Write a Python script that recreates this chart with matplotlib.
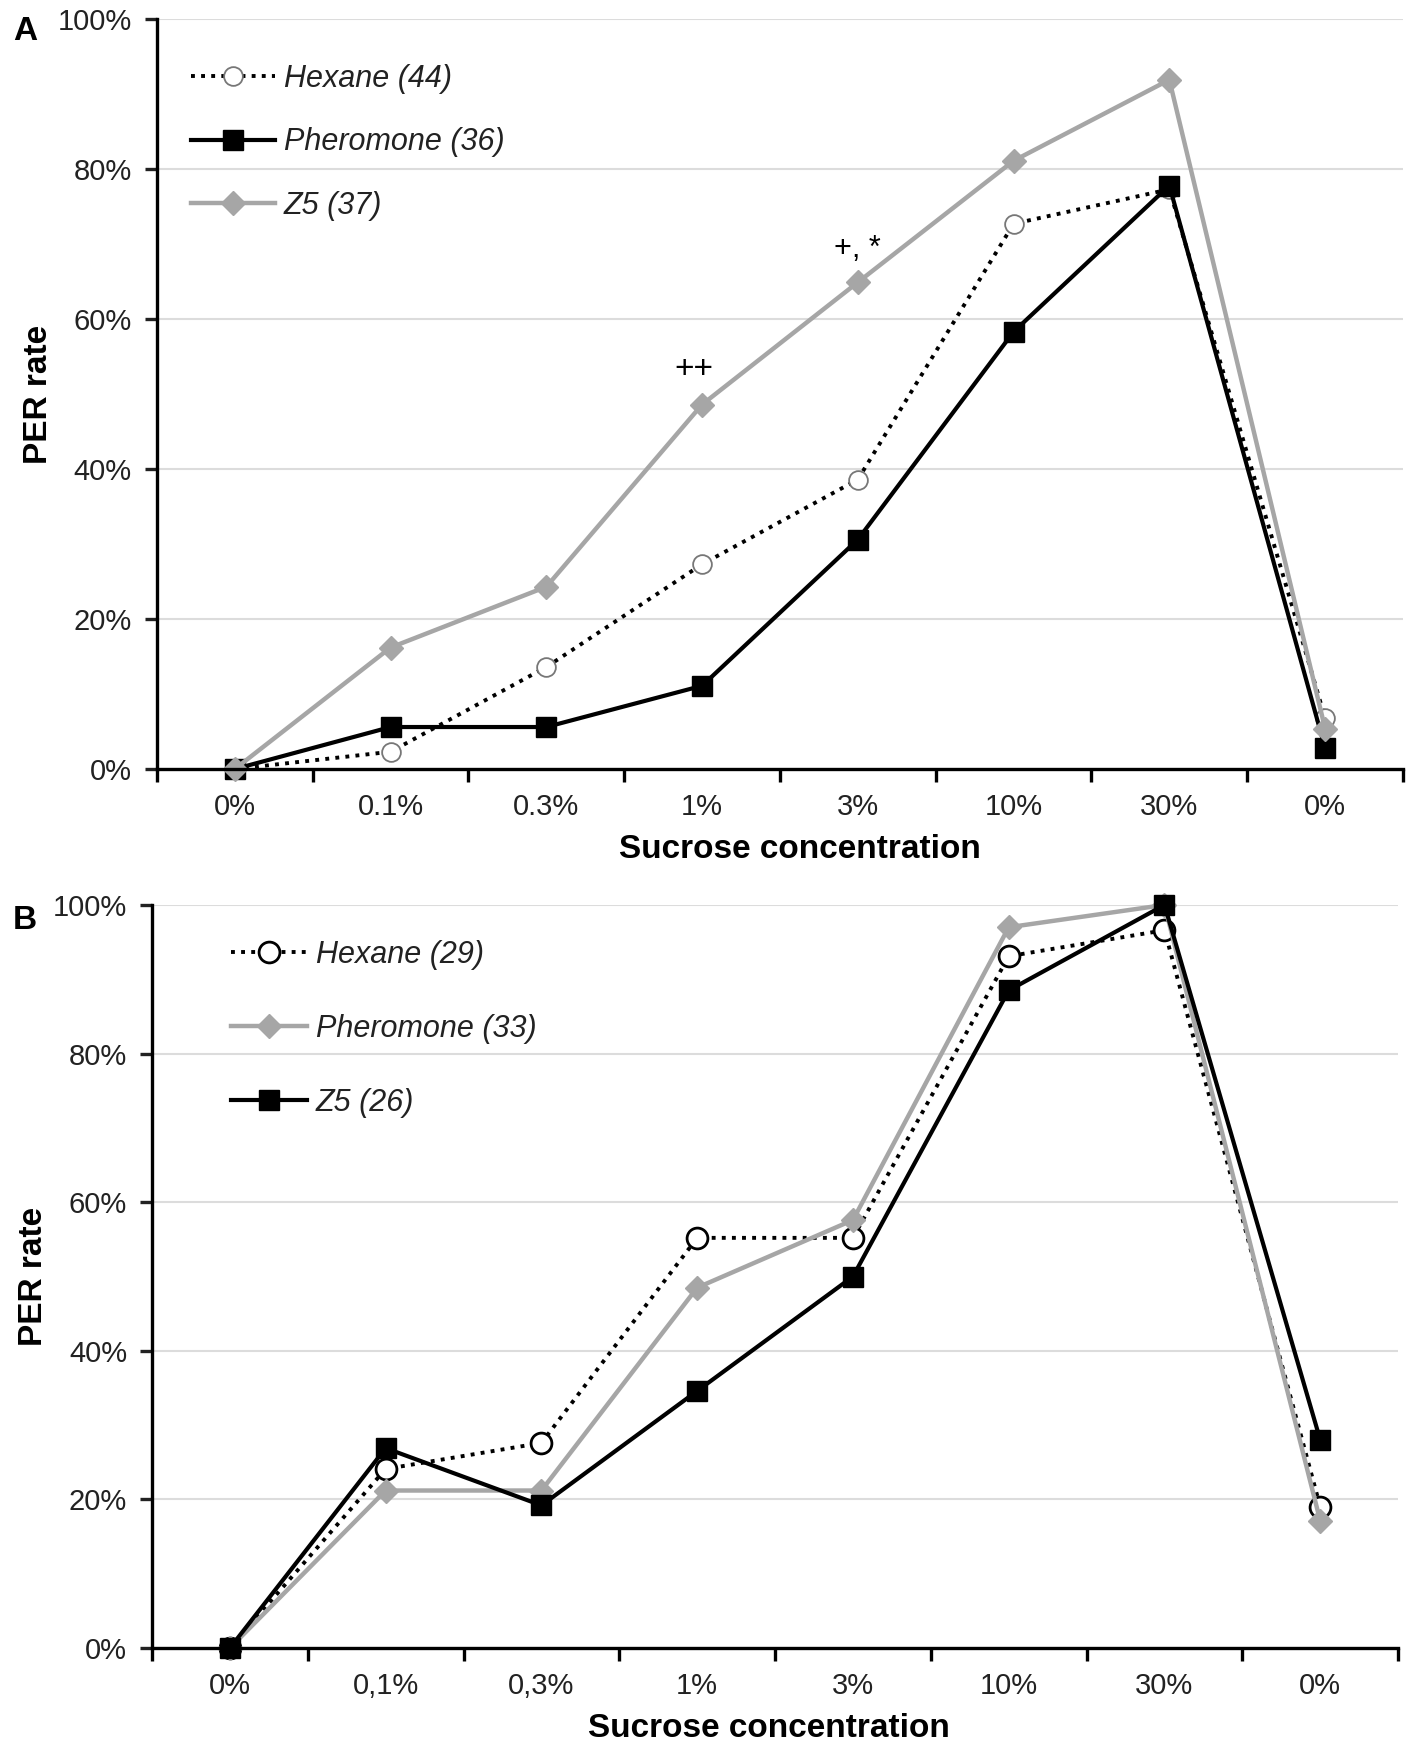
import matplotlib.pyplot as plt
import numpy as np

plt.rcParams["font.family"] = ["Liberation Sans", "DejaVu Sans"]

# x categories (sucrose concentration)
labels_a = ["0%", "0.1%", "0.3%", "1%", "3%", "10%", "30%", "0%"]
labels_b = ["0%", "0,1%", "0,3%", "1%", "3%", "10%", "30%", "0%"]

# panel A, PER rate (fraction)
hexane_a = [0.0, 0.023, 0.136, 0.273, 0.386, 0.727, 0.773, 0.068]
pheromone_a = [0.0, 0.056, 0.056, 0.111, 0.306, 0.583, 0.778, 0.028]
z5_a = [0.0, 0.162, 0.243, 0.486, 0.649, 0.811, 0.919, 0.054]

# panel B, PER rate (fraction)
hexane_b = [0.0, 0.241, 0.276, 0.552, 0.552, 0.931, 0.966, 0.19]
pheromone_b = [0.0, 0.212, 0.212, 0.485, 0.576, 0.97, 1.0, 0.171]
z5_b = [0.0, 0.269, 0.192, 0.346, 0.5, 0.885, 1.0, 0.28]

GREY = "#a6a6a6"


def style_axes(ax, xlabels, xlabel_x):
    x = np.arange(len(xlabels))
    ax.set_xlim(-0.5, len(xlabels) - 0.5)
    ax.set_ylim(0, 1)
    ax.set_yticks(np.arange(0, 1.01, 0.2))
    ax.set_yticklabels([f"{int(round(v * 100))}%" for v in np.arange(0, 1.01, 0.2)])
    ax.set_xticks(x)
    ax.set_xticklabels(xlabels)
    ax.set_xticks(np.arange(-0.5, len(xlabels)), minor=True)
    ax.tick_params(axis="x", which="major", length=0, pad=17, labelsize=21)
    ax.tick_params(axis="x", which="minor", length=9, width=2.4, direction="out")
    ax.tick_params(axis="y", length=9, width=2.4, pad=9, labelsize=21,
                   colors="#222222")
    ax.tick_params(axis="x", colors="#222222")
    ax.grid(axis="y", color="#dcdcdc", linewidth=1.5)
    ax.set_axisbelow(True)
    for s in ["top", "right"]:
        ax.spines[s].set_visible(False)
    for s in ["left", "bottom"]:
        ax.spines[s].set_linewidth(2.4)
        ax.spines[s].set_color("black")
    ax.set_ylabel("PER rate", fontsize=24, fontweight="bold")
    ax.set_xlabel("Sucrose concentration", fontsize=24, fontweight="bold")
    ax.yaxis.set_label_coords(-0.083, 0.5)
    ax.xaxis.set_label_coords(xlabel_x, -0.087)
    return x


fig = plt.figure(figsize=(14.18, 17.63), dpi=100)
ax_a = fig.add_axes([0.1107, 0.5638, 0.8787, 0.4254])
ax_b = fig.add_axes([0.1072, 0.0652, 0.8788, 0.4215])

# ---- panel A
x = style_axes(ax_a, labels_a, 0.516)
ax_a.plot(x, hexane_a, linestyle=(0, (1, 1.6)), linewidth=2.8, color="black",
          marker="o", markersize=13.5, markerfacecolor="white",
          markeredgecolor="#777777", markeredgewidth=1.3,
          label="Hexane (44)", clip_on=False)
ax_a.plot(x, pheromone_a, linestyle="-", linewidth=3.0, color="black",
          marker="s", markersize=14.5, label="Pheromone (36)", clip_on=False)
ax_a.plot(x, z5_a, linestyle="-", linewidth=3.2, color=GREY,
          marker="D", markersize=12.5, label="Z5 (37)", clip_on=False)
ax_a.annotate("++", (3, z5_a[3]), xytext=(-6, 14), textcoords="offset points",
              ha="center", va="bottom", fontsize=24)
ax_a.annotate("+, *", (4, z5_a[4]), xytext=(0, 13), textcoords="offset points",
              ha="center", va="bottom", fontsize=22)
leg = ax_a.legend(loc="upper left", bbox_to_anchor=(0.027, 0.94), frameon=False,
                  fontsize=22, handlelength=2.75, handletextpad=0.3,
                  labelspacing=1.09, borderpad=0, borderaxespad=0)
for t in leg.get_texts():
    t.set_fontstyle("italic")
    t.set_color("#222222")

# ---- panel B
x = style_axes(ax_b, labels_b, 0.495)
ax_b.plot(x, hexane_b, linestyle=(0, (1, 1.6)), linewidth=2.8, color="black",
          marker="o", markersize=15, markerfacecolor="white",
          markeredgecolor="black", markeredgewidth=2,
          label="Hexane (29)", clip_on=False)
ax_b.plot(x, pheromone_b, linestyle="-", linewidth=3.2, color=GREY,
          marker="D", markersize=12.5, label="Pheromone (33)", clip_on=False)
ax_b.plot(x, z5_b, linestyle="-", linewidth=3.0, color="black",
          marker="s", markersize=15, label="Z5 (26)", clip_on=False)
leg = ax_b.legend(loc="upper left", bbox_to_anchor=(0.063, 0.953), frameon=False,
                  fontsize=22, handlelength=2.5, handletextpad=0.3,
                  labelspacing=1.44, borderpad=0, borderaxespad=0)
for t in leg.get_texts():
    t.set_fontstyle("italic")
    t.set_color("#222222")

fig.text(0.009, 0.9824, "A", fontsize=24, fontweight="bold", va="center")
fig.text(0.009, 0.4778, "B", fontsize=24, fontweight="bold", va="center")

plt.savefig("out.png", dpi=100)
plt.close()
